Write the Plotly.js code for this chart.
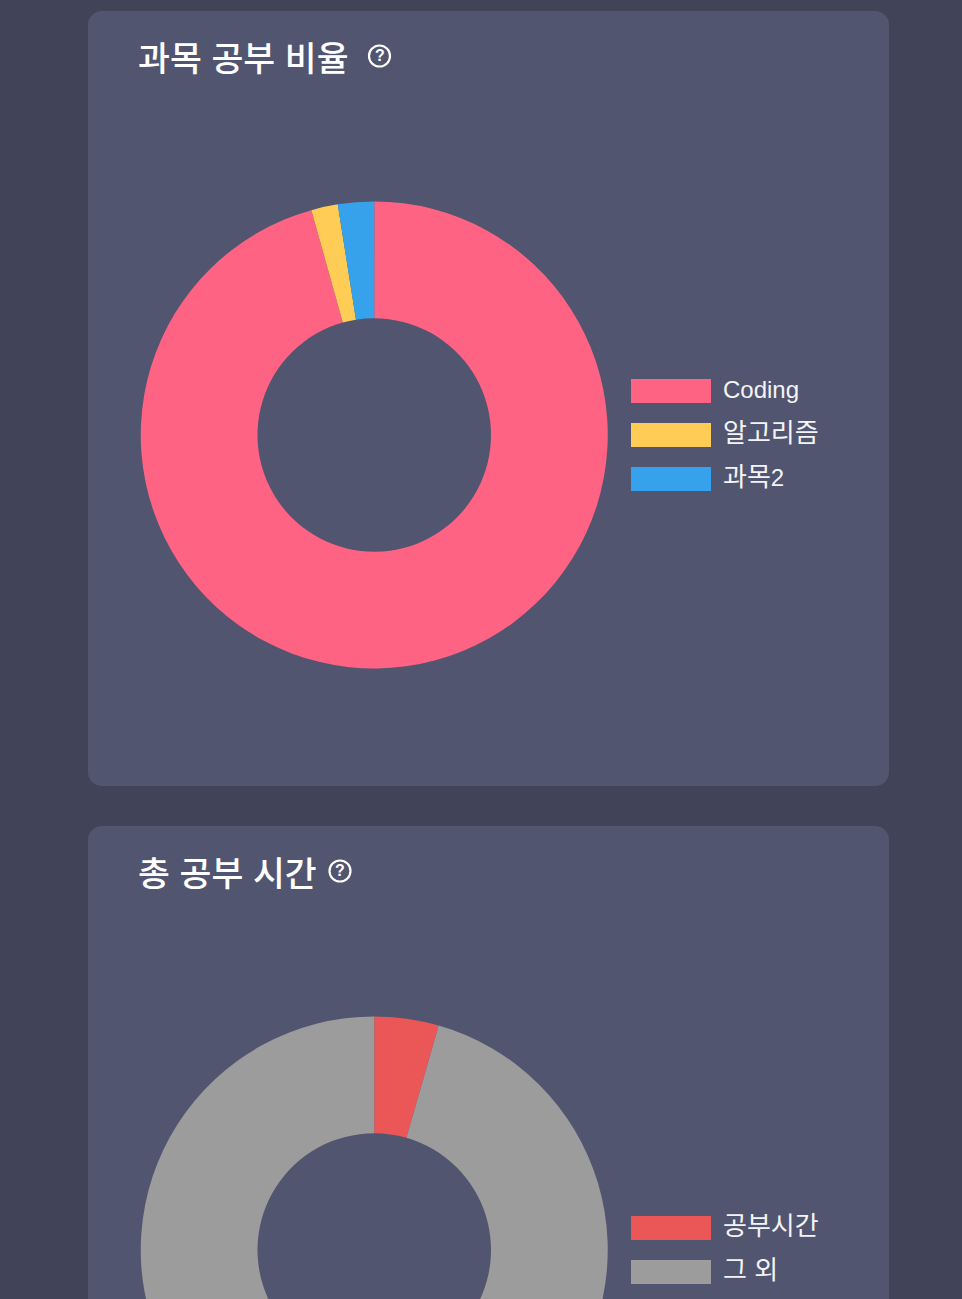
<!DOCTYPE html>
<html lang="ko">
<head>
<meta charset="utf-8">
<script src="https://cdn.plot.ly/plotly-3.0.1.min.js"></script>
<style>
html,body{margin:0;padding:0;width:962px;height:1299px;overflow:hidden;background:#414358;}
.card{position:absolute;left:88px;width:801px;height:775px;background:#52556f;border-radius:14px;overflow:hidden;}
#c1{top:11px;} #c2{top:826px;}
.plot{width:801px;height:774px;}
</style>
</head>
<body>
<div class="card" id="c1"><div class="plot" id="p1"></div></div>
<div class="card" id="c2"><div class="plot" id="p2"></div></div>
<script>
const title1 = "과목 공부 비율";
const labels1 = ["Coding", "알고리즘", "과목2"];
const values1 = [95.66, 1.84, 2.5];
const colors1 = ["#ff6384", "#ffcd56", "#36a2eb"];

const title2 = "총 공부 시간";
const labels2 = ["공부시간", "그 외"];
const values2 = [4.45, 95.55];
const colors2 = ["#eb5757", "#9c9c9c"];

const FONT = '"Liberation Sans","Noto Sans CJK KR",Arial,sans-serif';
const W = 801, H = 774;
const px = x => x / W, py = y => 1 - y / H;
const hangul = s => s.replace(/[\uac00-\ud7a3 ]+/g, m => '<span style="font-size:26px">' + m + '</span>');

function draw(id, title, labels, values, colors, iconX, textDy) {
  const cx = 286.25, cy = 424, r = 233.5;
  const top = cy - 22 * labels.length + 10;
  const shapes = [{
    type: "circle", xref: "paper", yref: "paper",
    x0: px(iconX - 10.5), x1: px(iconX + 10.5), y0: py(45 - 10.5), y1: py(45 + 10.5),
    line: {color: "#ffffff", width: 2.2}, fillcolor: "rgba(0,0,0,0)"
  }];
  const annotations = [{
    text: "?", xref: "paper", yref: "paper", x: px(iconX), y: py(45), xanchor: "center", yanchor: "middle",
    showarrow: false, font: {family: FONT, size: 16, color: "#ffffff", weight: 700}
  }];
  labels.forEach((lab, i) => {
    const y0 = top + 44 * i;
    shapes.push({type: "rect", xref: "paper", yref: "paper", x0: px(543), x1: px(623),
      y0: py(y0), y1: py(y0 + 24), fillcolor: colors[i], line: {width: 0}});
    annotations.push({text: hangul(lab), xref: "paper", yref: "paper", x: px(633), y: py(y0 + 12 + textDy[i]),
      xanchor: "left", yanchor: "middle", showarrow: false, font: {family: FONT, size: 24, color: "#f4f4f6"}});
  });
  Plotly.newPlot(id, [{
    type: "pie", labels, values, sort: false, direction: "clockwise", rotation: 0, hole: 0.5,
    textinfo: "none", marker: {colors, line: {width: 0}},
    domain: {x: [px(cx - r), px(cx + r)], y: [py(cy + r), py(cy - r)]},
    showlegend: false
  }], {
    width: W, height: H, margin: {l: 0, r: 0, t: 0, b: 0},
    paper_bgcolor: "rgba(0,0,0,0)", plot_bgcolor: "rgba(0,0,0,0)",
    showlegend: false, shapes, annotations,
    title: {text: title, xref: "paper", yref: "paper", x: px(50), xanchor: "left",
      y: py(48), yanchor: "middle", font: {family: FONT, size: 34.67, color: "#ffffff", weight: 500}}
  }, {displayModeBar: false, staticPlot: false});
}
draw("p1", title1, labels1, values1, colors1, 291.5, [-2, -2, -2]);
draw("p2", title2, labels2, values2, colors2, 252, [-2, -2]);
</script>
</body>
</html>
